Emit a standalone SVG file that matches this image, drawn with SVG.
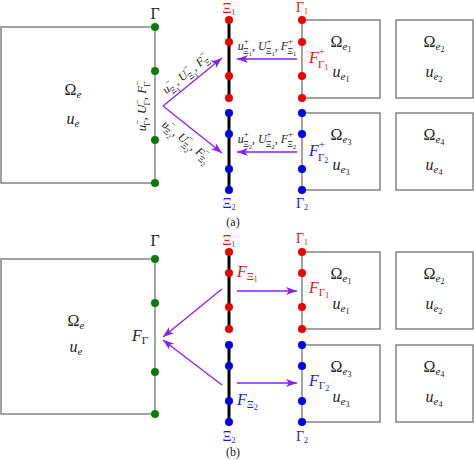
<svg xmlns="http://www.w3.org/2000/svg" width="474" height="460" viewBox="0 0 474 460">
<defs>
<style>
text{font-family:"Liberation Serif","DejaVu Serif",serif;font-size:16px;fill:#222}
.i{font-style:italic}
.n{font-style:normal}
.s{font-size:11px}
.ss{font-size:8px}
.lb{font-size:12px}
.lv{font-size:13px}
.ls{font-size:9px}
.lss{font-size:6.5px}
.hd{font-size:14px}
.red{fill:#ee1111}
.blue{fill:#1a1ae6}
.box{fill:#fff;stroke:#707070;stroke-width:1.3}
.xi{stroke:#000;stroke-width:3;fill:none}
.arr{stroke:#8a1cff;stroke-width:1.3;fill:none;marker-end:url(#ah)}
.gd{fill:#0a7a0a}
.rd{fill:#ee0000}
.bd{fill:#0000ee}
</style>
<marker id="ah" markerUnits="userSpaceOnUse" markerWidth="12" markerHeight="10" refX="11" refY="4" orient="auto">
<path d="M0,0 L11,4 L0,8 L3,4 z" fill="#8a1cff"/>
</marker>
</defs>

<!-- ================= Panel (a) ================= -->
<g id="a-omega-e">
<rect class="box" x="1" y="27" width="154" height="156"/>
<text x="73" y="95" text-anchor="middle">Ω<tspan class="s i" dy="3">e</tspan></text>
<text x="73" y="124" text-anchor="middle" class="i">u<tspan class="s" dy="3">e</tspan></text>
</g>
<g id="a-gamma">
<circle class="gd" cx="155" cy="27" r="4"/>
<circle class="gd" cx="155" cy="71" r="4"/>
<circle class="gd" cx="155" cy="140" r="4"/>
<circle class="gd" cx="155" cy="183" r="4"/>
<text x="155" y="19" text-anchor="middle">Γ</text>
<text transform="translate(146,106) rotate(-90)" text-anchor="middle" class="lv"><tspan class="i">u</tspan><tspan class="ls" dy="-6">−</tspan><tspan class="ls" dx="-6" dy="10">Γ</tspan><tspan dy="-4">, </tspan><tspan class="i">U</tspan><tspan class="ls" dy="-6">−</tspan><tspan class="ls" dx="-6" dy="10">Γ</tspan><tspan dy="-4">, </tspan><tspan class="i">F</tspan><tspan class="ls" dy="-6">−</tspan><tspan class="ls" dx="-6" dy="10">Γ</tspan></text>
</g>
<g id="a-xi1">
<line class="xi" x1="229" y1="20" x2="229" y2="98"/>
<circle class="rd" cx="229" cy="20" r="4"/>
<circle class="rd" cx="229" cy="42" r="4"/>
<circle class="rd" cx="229" cy="76" r="4"/>
<circle class="rd" cx="229" cy="98" r="4"/>
<text x="229" y="13" text-anchor="middle" class="red hd">Ξ<tspan class="ss" dy="2">1</tspan></text>
</g>
<g id="a-xi2">
<line class="xi" x1="229" y1="113" x2="229" y2="190"/>
<circle class="bd" cx="229" cy="113" r="4"/>
<circle class="bd" cx="229" cy="134" r="4"/>
<circle class="bd" cx="229" cy="169" r="4"/>
<circle class="bd" cx="229" cy="190" r="4"/>
<text x="229" y="208" text-anchor="middle" class="blue hd">Ξ<tspan class="ss" dy="2">2</tspan></text>
</g>
<g id="a-e1">
<rect class="box" x="302" y="20" width="78" height="78"/>
<text x="341" y="47" text-anchor="middle">Ω<tspan class="s i" dy="3">e</tspan><tspan class="ss" dy="2">1</tspan></text>
<text x="341" y="77" text-anchor="middle" class="i">u<tspan class="s" dy="3">e</tspan><tspan class="ss n" dy="2">1</tspan></text>
</g>
<g id="a-e2">
<rect class="box" x="396" y="20" width="77" height="78"/>
<text x="434" y="47" text-anchor="middle">Ω<tspan class="s i" dy="3">e</tspan><tspan class="ss" dy="2">2</tspan></text>
<text x="434" y="77" text-anchor="middle" class="i">u<tspan class="s" dy="3">e</tspan><tspan class="ss n" dy="2">2</tspan></text>
</g>
<g id="a-e3">
<rect class="box" x="302" y="113" width="78" height="77"/>
<text x="341" y="140" text-anchor="middle">Ω<tspan class="s i" dy="3">e</tspan><tspan class="ss" dy="2">3</tspan></text>
<text x="341" y="170" text-anchor="middle" class="i">u<tspan class="s" dy="3">e</tspan><tspan class="ss n" dy="2">3</tspan></text>
</g>
<g id="a-e4">
<rect class="box" x="396" y="113" width="77" height="77"/>
<text x="434" y="140" text-anchor="middle">Ω<tspan class="s i" dy="3">e</tspan><tspan class="ss" dy="2">4</tspan></text>
<text x="434" y="170" text-anchor="middle" class="i">u<tspan class="s" dy="3">e</tspan><tspan class="ss n" dy="2">4</tspan></text>
</g>
<g id="a-gamma1">
<circle class="rd" cx="302" cy="20" r="4"/>
<circle class="rd" cx="302" cy="42" r="4"/>
<circle class="rd" cx="302" cy="76" r="4"/>
<circle class="rd" cx="302" cy="98" r="4"/>
<text x="302" y="12" text-anchor="middle" class="red hd">Γ<tspan class="ss" dy="2">1</tspan></text>
<text x="309" y="63" class="red"><tspan class="i">F</tspan><tspan class="s" dy="-8">+</tspan><tspan class="s" dx="-7" dy="13">Γ</tspan><tspan class="ss" dy="2">1</tspan></text>
</g>
<g id="a-gamma2">
<circle class="bd" cx="302" cy="113" r="4"/>
<circle class="bd" cx="302" cy="134" r="4"/>
<circle class="bd" cx="302" cy="169" r="4"/>
<circle class="bd" cx="302" cy="190" r="4"/>
<text x="302" y="208" text-anchor="middle" class="blue hd">Γ<tspan class="ss" dy="2">2</tspan></text>
<text x="309" y="156" class="blue"><tspan class="i">F</tspan><tspan class="s" dy="-8">+</tspan><tspan class="s" dx="-7" dy="13">Γ</tspan><tspan class="ss" dy="2">2</tspan></text>
</g>

<g id="a-connectors">
<line class="arr" x1="163" y1="106" x2="222" y2="58"/>
<line class="arr" x1="163" y1="106" x2="222" y2="153"/>
<line class="arr" x1="297" y1="59" x2="237" y2="59"/>
<line class="arr" x1="297" y1="152" x2="237" y2="152"/>
<text transform="translate(189,76) rotate(-39)" text-anchor="middle" class="lb"><tspan class="i">u</tspan><tspan class="ls" dy="-6">−</tspan><tspan class="ls" dx="-6" dy="10">Ξ</tspan><tspan class="lss" dy="2">1</tspan><tspan dy="-6">, </tspan><tspan class="i">U</tspan><tspan class="ls" dy="-6">−</tspan><tspan class="ls" dx="-6" dy="10">Ξ</tspan><tspan class="lss" dy="2">1</tspan><tspan dy="-6">, </tspan><tspan class="i">F</tspan><tspan class="ls" dy="-6">−</tspan><tspan class="ls" dx="-6" dy="10">Ξ</tspan><tspan class="lss" dy="2">1</tspan></text>
<text transform="translate(184,144) rotate(39)" text-anchor="middle" class="lb"><tspan class="i">u</tspan><tspan class="ls" dy="-6">−</tspan><tspan class="ls" dx="-6" dy="10">Ξ</tspan><tspan class="lss" dy="2">2</tspan><tspan dy="-6">, </tspan><tspan class="i">U</tspan><tspan class="ls" dy="-6">−</tspan><tspan class="ls" dx="-6" dy="10">Ξ</tspan><tspan class="lss" dy="2">2</tspan><tspan dy="-6">, </tspan><tspan class="i">F</tspan><tspan class="ls" dy="-6">−</tspan><tspan class="ls" dx="-6" dy="10">Ξ</tspan><tspan class="lss" dy="2">2</tspan></text>
<text x="267" y="50" text-anchor="middle" class="lb"><tspan class="i">u</tspan><tspan class="ls" dy="-6">+</tspan><tspan class="ls" dx="-6" dy="10">Ξ</tspan><tspan class="lss" dy="2">1</tspan><tspan dy="-6">, </tspan><tspan class="i">U</tspan><tspan class="ls" dy="-6">+</tspan><tspan class="ls" dx="-6" dy="10">Ξ</tspan><tspan class="lss" dy="2">1</tspan><tspan dy="-6">, </tspan><tspan class="i">F</tspan><tspan class="ls" dy="-6">+</tspan><tspan class="ls" dx="-6" dy="10">Ξ</tspan><tspan class="lss" dy="2">1</tspan></text>
<text x="267" y="143" text-anchor="middle" class="lb"><tspan class="i">u</tspan><tspan class="ls" dy="-6">+</tspan><tspan class="ls" dx="-6" dy="10">Ξ</tspan><tspan class="lss" dy="2">2</tspan><tspan dy="-6">, </tspan><tspan class="i">U</tspan><tspan class="ls" dy="-6">+</tspan><tspan class="ls" dx="-6" dy="10">Ξ</tspan><tspan class="lss" dy="2">2</tspan><tspan dy="-6">, </tspan><tspan class="i">F</tspan><tspan class="ls" dy="-6">+</tspan><tspan class="ls" dx="-6" dy="10">Ξ</tspan><tspan class="lss" dy="2">2</tspan></text>
</g>
<text x="233" y="226" text-anchor="middle" class="lb">(a)</text>

<!-- ================= Panel (b) ================= -->
<g id="b-omega-e">
<rect class="box" x="1" y="259" width="154" height="155"/>
<text x="76" y="326" text-anchor="middle">Ω<tspan class="s i" dy="3">e</tspan></text>
<text x="76" y="352" text-anchor="middle" class="i">u<tspan class="s" dy="3">e</tspan></text>
</g>
<g id="b-gamma">
<circle class="gd" cx="155" cy="259" r="4"/>
<circle class="gd" cx="155" cy="303" r="4"/>
<circle class="gd" cx="155" cy="372" r="4"/>
<circle class="gd" cx="155" cy="414" r="4"/>
<text x="155" y="246" text-anchor="middle">Γ</text>
<text x="132" y="341"><tspan class="i">F</tspan><tspan class="s" dy="3">Γ</tspan></text>
</g>
<g id="b-xi1">
<line class="xi" x1="229" y1="252" x2="229" y2="329"/>
<circle class="rd" cx="229" cy="252" r="4"/>
<circle class="rd" cx="229" cy="273" r="4"/>
<circle class="rd" cx="229" cy="307" r="4"/>
<circle class="rd" cx="229" cy="329" r="4"/>
<text x="229" y="245" text-anchor="middle" class="red hd">Ξ<tspan class="ss" dy="2">1</tspan></text>
<text x="237" y="277" class="red"><tspan class="i">F</tspan><tspan class="s" dy="3">Ξ</tspan><tspan class="ss" dy="2">1</tspan></text>
</g>
<g id="b-xi2">
<line class="xi" x1="229" y1="345" x2="229" y2="422"/>
<circle class="bd" cx="229" cy="345" r="4"/>
<circle class="bd" cx="229" cy="366" r="4"/>
<circle class="bd" cx="229" cy="401" r="4"/>
<circle class="bd" cx="229" cy="422" r="4"/>
<text x="229" y="441" text-anchor="middle" class="blue hd">Ξ<tspan class="ss" dy="2">2</tspan></text>
<text x="237" y="405" class="blue"><tspan class="i">F</tspan><tspan class="s" dy="3">Ξ</tspan><tspan class="ss" dy="2">2</tspan></text>
</g>
<g id="b-e1">
<rect class="box" x="302" y="252" width="78" height="77"/>
<text x="341" y="279" text-anchor="middle">Ω<tspan class="s i" dy="3">e</tspan><tspan class="ss" dy="2">1</tspan></text>
<text x="341" y="309" text-anchor="middle" class="i">u<tspan class="s" dy="3">e</tspan><tspan class="ss n" dy="2">1</tspan></text>
</g>
<g id="b-e2">
<rect class="box" x="396" y="252" width="77" height="77"/>
<text x="434" y="279" text-anchor="middle">Ω<tspan class="s i" dy="3">e</tspan><tspan class="ss" dy="2">2</tspan></text>
<text x="434" y="309" text-anchor="middle" class="i">u<tspan class="s" dy="3">e</tspan><tspan class="ss n" dy="2">2</tspan></text>
</g>
<g id="b-e3">
<rect class="box" x="302" y="345" width="78" height="77"/>
<text x="341" y="372" text-anchor="middle">Ω<tspan class="s i" dy="3">e</tspan><tspan class="ss" dy="2">3</tspan></text>
<text x="341" y="402" text-anchor="middle" class="i">u<tspan class="s" dy="3">e</tspan><tspan class="ss n" dy="2">3</tspan></text>
</g>
<g id="b-e4">
<rect class="box" x="396" y="345" width="77" height="77"/>
<text x="434" y="372" text-anchor="middle">Ω<tspan class="s i" dy="3">e</tspan><tspan class="ss" dy="2">4</tspan></text>
<text x="434" y="402" text-anchor="middle" class="i">u<tspan class="s" dy="3">e</tspan><tspan class="ss n" dy="2">4</tspan></text>
</g>
<g id="b-gamma1">
<circle class="rd" cx="302" cy="252" r="4"/>
<circle class="rd" cx="302" cy="273" r="4"/>
<circle class="rd" cx="302" cy="307" r="4"/>
<circle class="rd" cx="302" cy="329" r="4"/>
<text x="302" y="243" text-anchor="middle" class="red hd">Γ<tspan class="ss" dy="2">1</tspan></text>
<text x="309" y="293" class="red"><tspan class="i">F</tspan><tspan class="s" dy="3">Γ</tspan><tspan class="ss" dy="2">1</tspan></text>
</g>
<g id="b-gamma2">
<circle class="bd" cx="302" cy="345" r="4"/>
<circle class="bd" cx="302" cy="366" r="4"/>
<circle class="bd" cx="302" cy="401" r="4"/>
<circle class="bd" cx="302" cy="422" r="4"/>
<text x="302" y="441" text-anchor="middle" class="blue hd">Γ<tspan class="ss" dy="2">2</tspan></text>
<text x="309" y="386" class="blue"><tspan class="i">F</tspan><tspan class="s" dy="3">Γ</tspan><tspan class="ss" dy="2">2</tspan></text>
</g>

<g id="b-connectors">
<line class="arr" x1="222" y1="289" x2="163" y2="337"/>
<line class="arr" x1="222" y1="385" x2="163" y2="340"/>
<line class="arr" x1="237" y1="291" x2="297" y2="291"/>
<line class="arr" x1="237" y1="383" x2="297" y2="383"/>
</g>
<text x="233" y="456" text-anchor="middle" class="lb">(b)</text>
</svg>
